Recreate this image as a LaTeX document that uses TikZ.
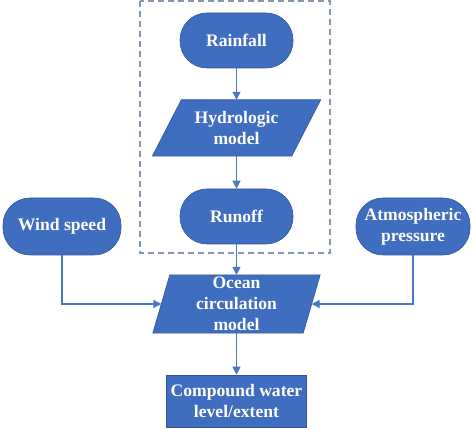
\documentclass[tikz,border=0pt]{standalone}
\usepackage{fontspec}
\setmainfont{Liberation Serif}
\usetikzlibrary{arrows.meta,backgrounds}
\definecolor{boxfill}{HTML}{3F6DBF}
\definecolor{boxline}{HTML}{2F5597}
\definecolor{flowline}{HTML}{4A76C6}
\definecolor{dashline}{HTML}{8497B0}
\tikzset{
	base/.style={text=white, align=center, inner sep=2pt,
		font=\fontsize{17.6}{21}\selectfont\bfseries},
	stadium/.style={base, fill=boxfill, draw=boxline, line width=0.6pt,
		rounded corners=27pt, minimum width=113pt, minimum height=55pt},
	para/.style={base, minimum height=56pt},
	result/.style={base, fill=boxfill, draw=boxline, line width=0.6pt,
		minimum width=140pt, minimum height=52pt},
	flow/.style={draw=flowline, line width=1.1pt, -{Triangle[length=8pt,width=8pt]}}
}
% parallelogram behind a text node: name, half slant
\newcommand\paraback[2]{\fill[boxfill, draw=boxline, line width=0.6pt]
	([xshift=#2pt]#1.north west) -- ([xshift=#2pt]#1.north east)
	-- ([xshift=-#2pt]#1.south east) -- ([xshift=-#2pt]#1.south west) -- cycle;}
\begin{document}
\begin{tikzpicture}[x=1pt,y=-1pt]
		\useasboundingbox (0,0) rectangle (474,430);
		\draw[dashline, dashed, line width=1.1pt, dash pattern=on 6pt off 4pt] (140,1) rectangle (330,253);
		\node[stadium] (rain) at (236.5,40.5) {Rainfall};
		\node[para, minimum width=139pt] (hydro) at (236.5,128) {Hydrologic\\model};
		\node[stadium] (runoff) at (236.5,216.5) {Runoff};
		\node[stadium, minimum width=118pt, minimum height=57pt] (wind) at (62,226.5) {Wind speed};
		\node[stadium, minimum width=114pt, minimum height=57pt] (atmos) at (413,226.5) {Atmospheric\\pressure};
		\node[para, minimum width=150pt] (ocean) at (236.5,304) {Ocean\\circulation\\model};
		\node[result] (level) at (236.5,401) {Compound water\\level/extent};
		\begin{scope}[on background layer]
			\paraback{hydro}{14.5}
			\paraback{ocean}{8.5}
		\end{scope}
		\draw[flow] (rain) -- (hydro);
		\draw[flow] (hydro) -- (runoff);
		\draw[flow] (runoff) -- (ocean);
		\draw[flow] (ocean) -- (level);
		\draw[flow] (wind.south) |- (ocean.west);
		\draw[flow] (atmos.south) |- (ocean.east);
	\end{tikzpicture}
\end{document}
